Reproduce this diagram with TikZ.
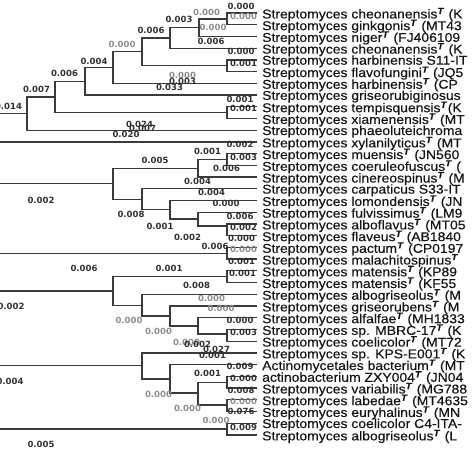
\documentclass[tikz,border=0pt]{standalone}
\usepackage{fontspec}
\setmainfont{Liberation Sans}
\newfontfamily\taxfont[FakeBold=0.3]{Liberation Sans}
\newfontfamily\lenfont{DejaVu Sans}
\usetikzlibrary{positioning}
\definecolor{treeline}{HTML}{3A3A3A}
\definecolor{lenblack}{HTML}{303030}
\definecolor{lengray}{HTML}{8C8C8C}
\tikzstyle{branch} = [line width=1.3pt, draw=treeline]
\tikzstyle{blen} = [inner sep=0pt, text=lenblack, font=\lenfont\bfseries\fontsize{8.5}{8.5}\selectfont]
\tikzstyle{bzero} = [blen, text=lengray]
\tikzstyle{taxon} = [anchor=west, inner sep=0pt, text=black!92, font=\taxfont\fontsize{12.8}{12.8}\selectfont]
\newcommand{\typ}{\textsuperscript{\textbf{\textit{T}}}}
\newcommand{\wide}[1]{\scalebox{1.09}[1]{#1}}

\begin{document}
\begin{tikzpicture}[x=1pt, y=-1pt]
        \useasboundingbox (0,0) rectangle (474,474);
        \clip (0,0) rectangle (474,474);
        % leaf tips and names
        \foreach \name [count=\i] in {%
            {Streptomyces cheonanensis\typ\ (K},
            {Streptomyces ginkgonis\typ\ (MT43},
            {Streptomyces niger\typ\ (FJ406109},
            {Streptomyces cheonanensis\typ\ (K},
            {Streptomyces harbinensis S11-IT},
            {Streptomyces flavofungini\typ\ (JQ5},
            {Streptomyces harbinensis\typ\ (CP},
            {Streptomyces griseorubiginosus},
            {Streptomyces tempisquensis\typ(K},
            {Streptomyces xiamenensis\typ\ (MT},
            {Streptomyces phaeoluteichroma},
            {Streptomyces xylanilyticus\typ\ (MT},
            {Streptomyces muensis\typ\ (JN560},
            {Streptomyces coeruleofuscus\typ\ (},
            {Streptomyces cinereospinus\typ\ (M},
            {Streptomyces carpaticus S33-IT},
            {Streptomyces lomondensis\typ\ (JN},
            {Streptomyces fulvissimus\typ\ (LM9},
            {Streptomyces alboflavus\typ\ (MT05},
            {Streptomyces flaveus\typ\ (AB1840},
            {Streptomyces pactum\typ\ (CP0197},
            {Streptomyces malachitospinus\typ},
            {Streptomyces matensis\typ\ (KP89},
            {Streptomyces matensis\typ\ (KF55},
            {Streptomyces albogriseolus\typ\ (M},
            {Streptomyces griseorubens\typ\ (M},
            {Streptomyces alfalfae\typ\ (MH1833},
            {Streptomyces sp. MBRC-17\typ\ (K},
            {Streptomyces coelicolor\typ\ (MT72},
            {Streptomyces sp. KPS-E001\typ\ (K},
            {Actinomycetales bacterium\typ\ (MT},
            {actinobacterium ZXY004\typ\ (JN04},
            {Streptomyces variabilis\typ\ (MG788},
            {Streptomyces labedae\typ\ (MT4635},
            {Streptomyces euryhalinus\typ\ (MN},
            {Streptomyces coelicolor C4-ITA-},
            {Streptomyces albogriseolus\typ\ (L}} {
            \coordinate (t\i) at (257, {13+(\i-1)*11.72});
            \node[taxon] (n\i) at (262, {14.5+(\i-1)*11.72}) {\wide{\name}};
        }
        % inner nodes
        \coordinate (a1) at (27,113.6);  \coordinate (a2) at (55,97);
        \coordinate (a3) at (85,81.3);   \coordinate (a4) at (113,67.6);
        \coordinate (a5) at (142,51.8);  \coordinate (a6) at (170,37.9);
        \coordinate (a7) at (199,27.6);  \coordinate (a8) at (227,18.9);
        \coordinate (a9) at (227,65.8);  \coordinate (a10) at (227,112.6);
        \coordinate (b2) at (113,183.8); \coordinate (b3) at (142,199.3);
        \coordinate (b4) at (198,168.3); \coordinate (b5) at (227,159.5);
        \coordinate (b6) at (170,209.8); \coordinate (b7) at (198,219.1);
        \coordinate (b8) at (227,226);   \coordinate (b9) at (227,253.3);
        \coordinate (c1) at (113,291);   \coordinate (c2) at (227,276.7);
        \coordinate (c3) at (142,305.2); \coordinate (c4) at (170,316);
        \coordinate (c5) at (198,325.9); \coordinate (c6) at (227,334);
        \coordinate (d1) at (142,365.5); \coordinate (d2) at (170,379);
        \coordinate (d3) at (198,393);   \coordinate (d4) at (227,382.2);
        \coordinate (d5) at (227,405);   \coordinate (e1) at (227,429.1);
        % cut-off stems on the left edge
        \foreach \n in {a1,t12,b2,b9,c1,d1,e1}
            \draw[branch] (0,0 |- \n) -- (\n);
        % branches
        \foreach \p/\c in {a1/a2, a1/t11, a2/a3, a2/a10, a3/a4, a3/t8, a4/a5, a4/t7,
                a5/a6, a5/a9, a6/a7, a6/t4, a7/a8, a7/t3, a8/t1, a8/t2, a9/t5, a9/t6,
                a10/t9, a10/t10,
                b2/b4, b2/b3, b4/b5, b4/t15, b5/t13, b5/t14, b3/t16, b3/b6, b6/t17, b6/b7,
                b7/t18, b7/b8, b8/t19, b8/t20, b9/t21, b9/t22,
                c1/c2, c1/c3, c2/t23, c2/t24, c3/t25, c3/c4, c4/t26, c4/c5, c5/t27, c5/c6,
                c6/t28, c6/t29,
                d1/t30, d1/d2, d2/t31, d2/d3, d3/d4, d3/d5, d4/t32, d4/t33, d5/t34, d5/t35,
                e1/t36, e1/t37}
            \draw[branch] (\p) |- (\c);
        % branch lengths
        \foreach \x/\y/\v/\s [count=\k] in {
            8.5/106/0.014/blen, 36.5/89/0.007/blen, 64.5/73/0.006/blen, 94/61/0.004/blen,
            122/44/0.000/bzero, 151/30/0.006/blen, 179/19/0.003/blen, 206.5/12/0.000/bzero,
            241/6/0.000/blen, 243.5/16/0.000/bzero, 213/27/0.000/bzero, 211/41/0.006/blen,
            241/51/0.000/blen, 243.5/63/0.001/blen, 182.5/75/0.000/bzero, 182.5/81/0.003/blen,
            169.5/87/0.033/blen, 240/99/0.001/blen, 243.5/108/0.001/blen,
            139.5/124/0.024/blen, 142.5/128/0.007/blen, 126/134/0.020/blen, 240/144/0.002/blen,
            207.5/151/0.001/blen, 155/160/0.005/blen, 243.5/157/0.003/blen, 226.5/168/0.006/blen,
            197.5/181/0.004/blen, 41/200/0.002/blen, 211.5/192/0.004/blen, 226/203/0.000/blen,
            131/214/0.008/blen, 240/216/0.006/blen, 160/226/0.001/blen, 243.5/227/0.002/blen,
            187.5/237/0.002/blen, 241.5/238/0.000/blen, 215/246/0.006/blen, 243.5/249/0.000/bzero,
            241.5/261/0.001/blen,
            84/268/0.006/blen, 169/268/0.001/blen, 242.5/273/0.001/blen, 196.5/285/0.008/blen,
            211.5/298/0.000/bzero, 11/306/0.002/blen, 221/308/0.000/bzero, 129/320/0.000/bzero,
            240/320/0.000/blen, 158.5/331/0.000/bzero, 243.5/332/0.003/blen,
            186.5/342/0.000/bzero, 197.5/344/0.002/blen, 216.5/349/0.027/blen, 212.5/355/0.001/blen,
            10/381/0.004/blen, 240/366/0.009/blen, 207.5/373/0.001/blen, 243.5/378/0.000/blen,
            241/390/0.008/blen, 158.5/394/0.000/bzero, 243.5/401/0.000/bzero, 187.5/408/0.000/bzero,
            241/411/0.076/blen, 216/420/0.000/bzero, 243.5/427/0.009/blen, 41/444/0.005/blen}
            \node[\s] (len\k) at (\x,\y) {\v};
\end{tikzpicture}
\end{document}
